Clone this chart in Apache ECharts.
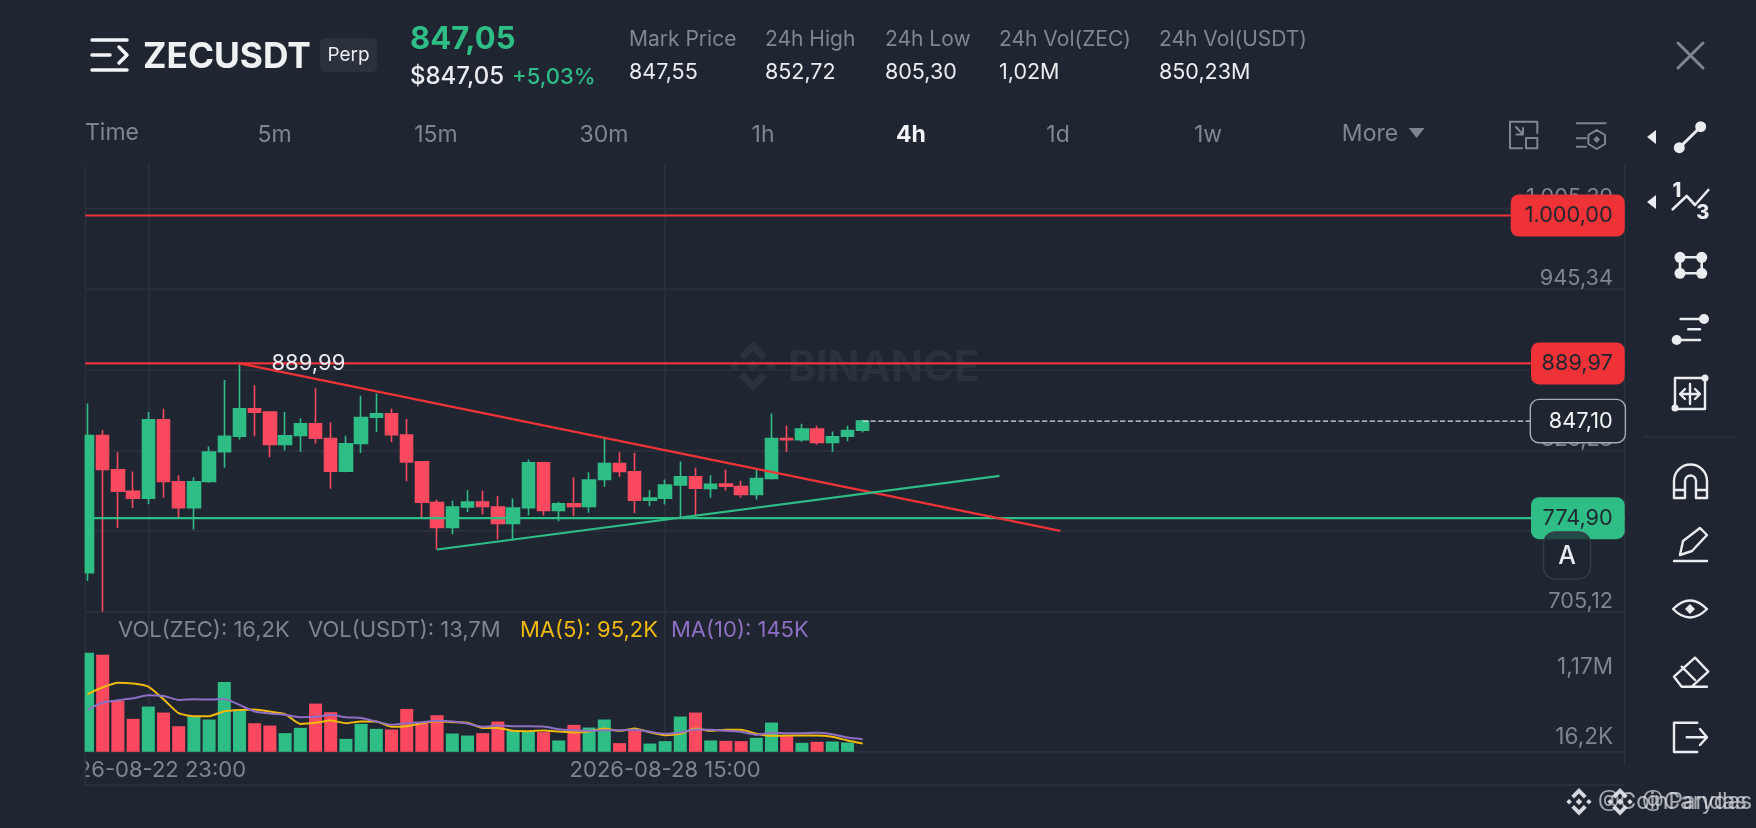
<!DOCTYPE html>
<html><head><meta charset="utf-8">
<style>html,body{margin:0;padding:0;background:#1f2631}#c{width:1756px;height:828px}</style>
<script src="https://cdn.jsdelivr.net/npm/echarts@6/dist/echarts.min.js"></script>
</head><body><div id="c"></div>
<script>
// open, close, low, high
const candles = [
[734.3,836.4,728.1,860.2],[836.4,811.1,705.3,840.4],[810.9,795.0,767.7,824.0],[794.8,789.8,782.4,809.6],
[789.8,848.1,785.3,853.8],[848.1,802.2,790.0,856.2],[802.0,782.6,775.7,806.9],[782.6,802.0,766.5,805.4],
[802.2,824.0,801.2,828.2],[824.3,835.7,812.4,877.6],[835.9,856.2,833.4,889.99],[856.2,853.8,835.9,873.8],
[853.8,829.7,820.3,853.8],[829.7,836.2,825.2,853.8],[836.4,845.1,824.3,849.3],[845.1,834.4,830.5,871.6],
[834.2,809.9,796.7,846.1],[809.9,830.2,809.1,836.2],[830.5,849.8,823.3,865.9],[850.0,852.5,838.9,867.6],
[852.5,836.9,831.5,856.2],[836.7,816.8,802.4,848.6],[816.8,786.8,775.7,817.1],[786.6,768.0,751.6,788.6],
[768.0,783.1,763.0,787.8],[783.3,786.8,779.4,795.7],[786.8,783.6,777.6,795.3],[783.1,771.0,759.1,791.6],
[771.0,782.4,758.6,789.6],[782.6,816.1,776.9,818.6],[816.1,780.6,776.9,816.8],[780.6,785.6,772.7,787.1],
[785.6,783.6,776.4,805.4],[783.6,803.2,778.9,809.1],[803.7,815.6,798.2,834.4],[815.6,809.6,805.7,824.0],
[809.4,788.3,778.7,823.5],[788.3,789.8,783.9,795.8],[789.8,799.5,785.1,803.7],[799.7,805.7,775.4,817.1],
[805.7,797.2,776.4,812.4],[797.0,800.0,790.1,806.9],[800.2,798.7,795.5,810.9],[798.5,792.5,790.1,802.7],
[792.5,804.4,788.8,811.1],[804.4,834.2,803.7,852.8],[834.2,833.2,824.3,843.6],[833.2,841.1,831.7,845.1],
[841.1,831.2,829.5,843.6],[831.2,835.4,824.3,839.4],[835.9,840.1,832.2,843.6],[840.4,847.1,838.6,848.1]];
const volumes = [1652,1619,856,560,763,664,439,609,549,1169,708,488,450,324,411,812,670,230,477,395,384,724,499,620,318,285,324,516,362,351,340,203,461,417,549,159,368,153,192,598,664,203,197,192,247,499,280,164,181,186,170,16.2];
const ma5 = [966,1081,1158,1142,1092,884,653,604,604,686,708,714,681,637,477,494,532,488,516,516,428,439,488,521,505,494,411,411,362,357,368,351,335,351,401,362,401,340,291,313,401,362,379,379,313,280,285,285,285,263,203,153];
const ma10 = [708,829,867,900,950,939,873,884,878,889,790,681,648,626,587,593,626,587,576,516,461,488,505,527,516,483,428,450,439,439,434,390,373,362,373,373,379,346,313,335,384,379,362,346,296,329,324,324,329,307,252,225];
const priceTicks = [705.12,765.18,825.23,885.29,945.34,1005.39];
const volumeTicks = [16.2,1170];
const volumeTickLabels = ['16,2K','1,17M'];
const timeTickIndex = [4,38];
const timeTickLabels = ['2026-08-22 23:00','2026-08-28 15:00'];
const redLevels = [1000,889.97];
const redLevelLabels = ['1.000,00','889,97'];
const greenLevel = 774.90, greenLabel = '774,90';
const lastPrice = 847.10, lastLabel = '847,10';
const peak = [10,889.99], peakLabel = '889,99';
const redTrend = [[10,889.99],[64,765.4]];
const greenTrend = [[23,751.6],[60,806.3]];
const statLabels = ['Mark Price','24h High','24h Low','24h Vol(ZEC)','24h Vol(USDT)'];
const statValues = ['847,55','852,72','805,30','1,02M','850,23M'];
const tabs = ['5m','15m','30m','1h','4h','1d','1w'];
const volLegend = ['VOL(ZEC): 16,2K','VOL(USDT): 13,7M','MA(5): 95,2K','MA(10): 145K'];

const BG='#1f2631',GRID='#2c333e',GREEN='#2ebd85',RED='#fb4a60',LINE_RED='#ef3338',MUTED='#7f868f',WHITE='#eaecef';
const F='Inter, "Noto Sans", sans-serif';
const XMIN=-0.145,XMAX=101.13;

const g=[];
let pathN=0;
const T=(text,x,y,fill,size,weight,align,z)=>g.push({type:'text',z:z||1,style:{text,x,y,fill,font:(weight||400)+' '+size+'px '+F,textAlign:align||'left',textVerticalAlign:'middle'}});
const P=(d,stroke,w,fill,z)=>{
  const name='svgPath'+(pathN++);
  echarts.graphic.registerShape(name,echarts.graphic.extendPath(d));
  g.push({type:name,z:z||1,style:{stroke:stroke||'none',lineWidth:w||0,fill:fill||'none',lineCap:'round',lineJoin:'round'}});
};
const C=(cx,cy,r,fill,z)=>g.push({type:'circle',z:z||1,shape:{cx,cy,r},style:{fill}});
function logo(cx,cy,k,fill,z){
  const q=(x,y,r)=>`M${cx+x*k} ${cy+(y-r)*k}L${cx+(x+r)*k} ${cy+y*k}L${cx+x*k} ${cy+(y+r)*k}L${cx+(x-r)*k} ${cy+y*k}Z`;
  const chev=s=>`M${cx} ${cy-s*25*k}L${cx+14*k} ${cy-s*11*k}L${cx+9*k} ${cy-s*6*k}L${cx} ${cy-s*15*k}L${cx-9*k} ${cy-s*6*k}L${cx-14*k} ${cy-s*11*k}Z`;
  P(q(0,0,6)+q(-18,0,5)+q(18,0,5)+chev(1)+chev(-1),null,0,fill,z);
}
// structural lines
P('M85.3 165V785M1624.7 165V765M85.3 785H1624.7M85.3 751.8H1624.7',GRID,1.5);
// watermark
logo(753,366,1,'#2b313d',0);
T('BINANCE',788,368,'#2b313d',42,700,'left',0);
// header
P('M92 40H127M92 55H110M92 70H127M119 47L127 55L119 63','#f4f5f6',3.5);
T('ZECUSDT',143,57,'#f0f1f3',35.3,700);
g.push({type:'rect',z:1,shape:{x:320,y:38,width:57,height:34,r:5},style:{fill:'#2b313d'}});
T('Perp',348.5,55,WHITE,19,400,'center');
T('847,05',410,40,GREEN,31,700);
T('$847,05',410,77,WHITE,24,500);
T('+5,03%',512,77,GREEN,22,500);
const statX=[629,765,885,999,1159];
statLabels.forEach((s,i)=>{T(s,statX[i],40,MUTED,21);T(statValues[i],statX[i],73,WHITE,21.5);});
T('Time',85,133,MUTED,23);
const tabX=[274.6,436,604,763,911,1058,1208];
tabs.forEach((s,i)=>T(s,tabX[i],135,s==='4h'?'#f4f5f6':MUTED,23,s==='4h'?700:400,'center'));
T('More',1370,134,MUTED,23,400,'center');
P('M1408.7 128H1424.5L1416.6 138Z',null,0,MUTED);
P('M1678 43L1703 68M1703 43L1678 68',MUTED,3);
// layout and settings icons
P('M1522 148.3H1510V121.7H1537.3V133M1526 138H1537.3V148.3H1526ZM1516 127L1523 134.5M1523 128V134.5H1516.5',MUTED,2);
P('M1576.7 123.3H1605.7M1576.7 138.3H1586M1576.7 146.7H1586M1596.7 130L1605 135V144L1596.7 149L1588.4 144V135Z',MUTED,2);
P('M1596.7 136L1600 139.5L1596.7 143L1593.4 139.5Z',null,0,MUTED);
// tool rail
P('M1647 137L1656 130V144Z',null,0,WHITE);
P('M1647 202L1656 195V209Z',null,0,WHITE);
P('M1679.3 147.7L1700.7 126.7',WHITE,3); C(1700.7,126.7,5.5,WHITE); C(1679.3,147.7,5.5,WHITE);
T('1',1677,191,WHITE,20,800,'center'); T('3',1702.7,213,WHITE,20,800,'center');
P('M1672.7 209.3L1686.7 196L1695 205L1708.3 190',WHITE,2.6);
P('M1680 257.3H1701.7V273.3H1680Z',WHITE,2.6);
[[1680,257.3],[1701.7,257.3],[1680,273.3],[1701.7,273.3]].forEach(p=>C(p[0],p[1],5.5,WHITE));
P('M1680.7 319H1700M1688.3 329.3H1700M1681.7 340H1700',WHITE,2.6); C(1704,319,5,WHITE); C(1676.7,340,5,WHITE);
P('M1702 378H1675V409H1705V381M1680 394H1700M1690 384V404M1685 389L1680 394L1685 399M1695 389L1700 394L1695 399',WHITE,2.4); C(1705,378,3.5,WHITE); C(1675,408,3.5,WHITE);
P('M1644 437H1737',GRID,1.5);
P('M1674 498V481A16.5 16.5 0 0 1 1707 481V498H1696V481A5.5 5.5 0 0 0 1685 481V498ZM1674 490H1685M1696 490H1707',WHITE,2.4);
P('M1680 555L1683 541L1700 528L1707 535L1692 551ZM1674 561H1707',WHITE,2.4);
P('M1673 609Q1690 592 1707 609Q1690 626 1673 609Z',WHITE,2.4);
P('M1690 604L1695 609L1690 614L1685 609Z',null,0,WHITE);
P('M1674 676.7L1695 657.7L1708.3 671.7L1691.7 686.7H1681.7ZM1681.7 666.7L1695 680M1691.7 686.7H1707',WHITE,2.4);
P('M1697.3 722.7H1674V752H1697.3M1686.7 737.3H1706.7M1700 729L1707 737.3L1700 745',WHITE,2.4);
// legend over the volume pane
const legX=[118,308,520,671],legC=[MUTED,MUTED,'#f0b90b','#8e6fc4'];
volLegend.forEach((s,i)=>T(s,legX[i],630,legC[i],22));
// cover what falls left of the plot's left edge (first candle, first volume bar, first time label)
g.push({type:'rect',z:100,shape:{x:0,y:160,width:84.6,height:624},style:{fill:BG}});
// autoscale button
g.push({type:'rect',z:100,shape:{x:1543.5,y:532,width:47,height:47,r:12},style:{fill:'rgba(31,38,49,0.75)',stroke:'#343b46',lineWidth:1.5}});
T('A',1567,556.5,WHITE,25,500,'center',101);
// overlapping attribution
logo(1579,801.7,0.55,'#d5d8dc',1); logo(1620,801.7,0.55,'#d5d8dc',2);
g.push({type:'text',z:2,style:{text:'@CoinPandas',x:1598,y:802,fill:'rgba(225,228,232,0.7)',font:'400 22.5px '+F,textVerticalAlign:'middle'}});
g.push({type:'text',z:2,style:{text:'@Carydas',x:1642,y:802,fill:'rgba(225,228,232,0.7)',font:'400 22.5px '+F,textVerticalAlign:'middle'}});

const fmtPrice=v=>{const s=v.toFixed(2).replace('.',',');return v>=1000?s[0]+'.'+s.slice(1):s;};
const tag=(value,text,bg,color,contentWidth,border)=>({type:'scatter',xAxisIndex:0,yAxisIndex:0,symbolSize:0,z:30,silent:true,clip:false,
  itemStyle:{opacity:1},data:[[XMAX,value]],label:{show:true,position:'left',distance:0,formatter:text,color,fontFamily:F,fontSize:21.7,lineHeight:21,
  width:contentWidth,align:'right',backgroundColor:bg,borderRadius:8,borderColor:border||bg,borderWidth:border?1.4:0,padding:[11,12,10,11]}});
const hline=(value,color,type,from,w)=>({type:'line',xAxisIndex:0,yAxisIndex:0,showSymbol:false,z:5,silent:true,
  data:[[from==null?XMIN:from,value],[XMAX,value]],lineStyle:{color,width:w||2.2,type:type||'solid'}});
const trend=(pts,color)=>({type:'line',xAxisIndex:0,yAxisIndex:0,showSymbol:false,z:5,silent:true,data:pts,lineStyle:{color,width:2.2}});

const chart=echarts.init(document.getElementById('c'),null,{renderer:'canvas',width:1756,height:828});
chart.setOption({
  animation:false,backgroundColor:BG,textStyle:{fontFamily:F},
  grid:[{left:85.3,right:131.3,top:165,height:447,containLabel:false},{left:85.3,right:131.3,top:612,height:139.8,containLabel:false}],
  xAxis:[
    {type:'value',gridIndex:0,min:XMIN,max:XMAX,axisLine:{show:false},axisTick:{show:false,customValues:timeTickIndex},axisLabel:{show:false,customValues:timeTickIndex},splitLine:{show:true,lineStyle:{color:GRID,width:1.5}}},
    {type:'value',gridIndex:1,min:XMIN,max:XMAX,axisLine:{show:false},axisTick:{show:false,customValues:timeTickIndex},
      axisLabel:{show:true,customValues:timeTickIndex,margin:8,color:MUTED,fontSize:22,fontFamily:F,formatter:v=>timeTickLabels[timeTickIndex.indexOf(v)]},splitLine:{show:true,lineStyle:{color:GRID,width:1.5}}}
  ],
  yAxis:[
    {type:'value',gridIndex:0,position:'right',min:705.12,max:1037.56,axisLine:{show:false},axisTick:{show:false,customValues:priceTicks},
      axisLabel:{inside:true,margin:11.7,customValues:priceTicks,color:MUTED,fontSize:21.7,fontFamily:F,verticalAlign:'bottom',formatter:fmtPrice},splitLine:{show:true,lineStyle:{color:GRID,width:1.5}}},
    {type:'value',gridIndex:1,position:'right',min:16.2,max:2323.8,axisLine:{show:false},axisTick:{show:false,customValues:volumeTicks},
      axisLabel:{inside:true,margin:11.7,customValues:volumeTicks,color:MUTED,fontSize:22.5,fontFamily:F,verticalAlign:'bottom',padding:[0,0,3,0],formatter:v=>volumeTickLabels[volumeTicks.indexOf(v)]},splitLine:{show:false}}
  ],
  graphic:{elements:g},
  series:[
    {type:'candlestick',xAxisIndex:0,yAxisIndex:0,barWidth:13,z:3,data:candles.map((c,i)=>[i,...c]),
      itemStyle:{color:GREEN,color0:RED,borderColor:GREEN,borderColor0:RED,borderWidth:1.6}},
    hline(redLevels[0],LINE_RED),hline(redLevels[1],LINE_RED),hline(greenLevel,GREEN),
    hline(lastPrice,'#d8dbdf','dashed',51,1.3),
    trend(redTrend,LINE_RED),trend(greenTrend,GREEN),
    {type:'scatter',xAxisIndex:0,yAxisIndex:0,symbolSize:0,z:8,silent:true,itemStyle:{opacity:1},data:[peak],
      label:{show:true,position:'right',distance:32,formatter:peakLabel,color:WHITE,fontSize:22,fontFamily:F}},
    tag(redLevels[0],redLevelLabels[0],'#ef3236','#1f2631',91),
    tag(redLevels[1],redLevelLabels[1],'#ef3236','#1f2631',70.7),
    tag(greenLevel,greenLabel,GREEN,'#1f2631',70.7),
    tag(lastPrice,lastLabel,BG,'#f4f5f6',70.7,'#a9adb3'),
    {type:'bar',xAxisIndex:1,yAxisIndex:1,barWidth:13,z:3,silent:true,
      data:volumes.map((v,i)=>({value:[i,v],itemStyle:{color:candles[i][1]>=candles[i][0]?GREEN:RED}}))},
    {type:'line',xAxisIndex:1,yAxisIndex:1,showSymbol:false,smooth:0.2,z:5,data:ma5.map((v,i)=>[i,v]),lineStyle:{color:'#f0b90b',width:2}},
    {type:'line',xAxisIndex:1,yAxisIndex:1,showSymbol:false,smooth:0.2,z:6,data:ma10.map((v,i)=>[i,v]),lineStyle:{color:'#8e6fc4',width:2}}
  ]
});
</script></body></html>
